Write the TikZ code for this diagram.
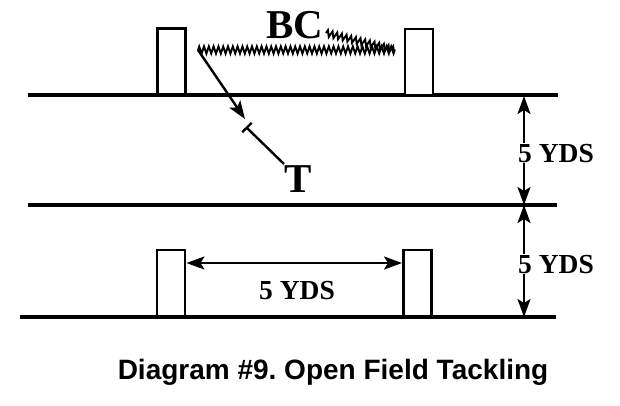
\documentclass[tikz,border=0pt]{standalone}
\usepackage{fontspec}
\setmainfont{Liberation Serif}
\newfontfamily\capfont{Liberation Sans}
\usetikzlibrary{arrows.meta,decorations.pathmorphing}
\begin{document}
\frenchspacing
\begin{tikzpicture}[x=1pt,y=-1pt,
  yard/.style={line width=3.2pt},
  post/.style={draw,line width=2.9pt,fill=white,minimum width=28pt,minimum height=66pt,inner sep=0pt},
  dim/.style={line width=2.4pt,{Stealth[length=18pt,width=13pt,inset=4pt]}-{Stealth[length=18pt,width=13pt,inset=4pt]}},
  ydslbl/.style={font=\fontsize{27.5}{27.5}\selectfont\bfseries,inner sep=1pt,fill=white},
  coil/.style={line width=1.9pt,decorate,decoration={zigzag,segment length=4.8pt,amplitude=3.6pt}},
  run/.style={line width=2.4pt,-{Stealth[length=18pt,width=13pt,inset=4pt]}},
  big/.style={font=\fontsize{41}{41}\selectfont\bfseries,inner sep=0pt}]
\useasboundingbox (0,0) rectangle (620,405);
% yard lines
\coordinate (l1a) at (28,95);  \coordinate (l1b) at (558,95);
\coordinate (l2a) at (28,205); \coordinate (l2b) at (557,205);
\coordinate (l3a) at (20,317); \coordinate (l3b) at (556,317);
\draw[yard] (l1a) -- (l1b);
\draw[yard] (l2a) -- (l2b);
\draw[yard] (l3a) -- (l3b);
% posts
\node[post] (p1) at (171.5,61.5) {};
\node[post] (p2) at (419,62) {};
\node[post] (p3) at (171,283) {};
\node[post] (p4) at (417.5,283) {};
% ball carrier path
\coordinate (zs) at (198,50);
\coordinate (ze) at (395,50);
\coordinate (bcs) at (326,33);
\draw[coil] (zs) -- (ze);
\draw[coil,decoration={amplitude=3.2pt}] (bcs) -- (ze);
\node[big,anchor=base] (bc) at (295,38) {BC};
% tackler
\coordinate (tip) at (245,119);
\coordinate (bar) at (247,128);
\coordinate (bara) at (242.2,132.2);
\coordinate (barb) at (251.7,122.8);
\coordinate (tend) at (284,164);
\draw[run] (zs) -- (tip);
\draw[line width=2.4pt] (bara) -- (barb);
\draw[line width=2.4pt] (bar) -- (tend);
\node[big,anchor=base] (t) at (298,192) {T};
% dimensions
\coordinate (v1) at (524,96); \coordinate (v2) at (524,205); \coordinate (v3) at (524,317);
\draw[dim] (v1) -- (v2);
\draw[dim] (v2) -- (v3);
\node[ydslbl,anchor=base west] (y1) at (517,162) {5 YDS};
\node[ydslbl,anchor=base west] (y2) at (517,273) {5 YDS};
\draw[dim] (p3.east |- 0,263) -- (p4.west |- 0,263);
\node[ydslbl,fill=none,anchor=base] (y3) at (297,299) {5 YDS};
% caption
\node[font=\capfont\fontsize{28}{28}\selectfont\bfseries,anchor=base,inner sep=0pt] (cap) at (333,379) {Diagram \#9. Open Field Tackling};
\end{tikzpicture}
\end{document}
